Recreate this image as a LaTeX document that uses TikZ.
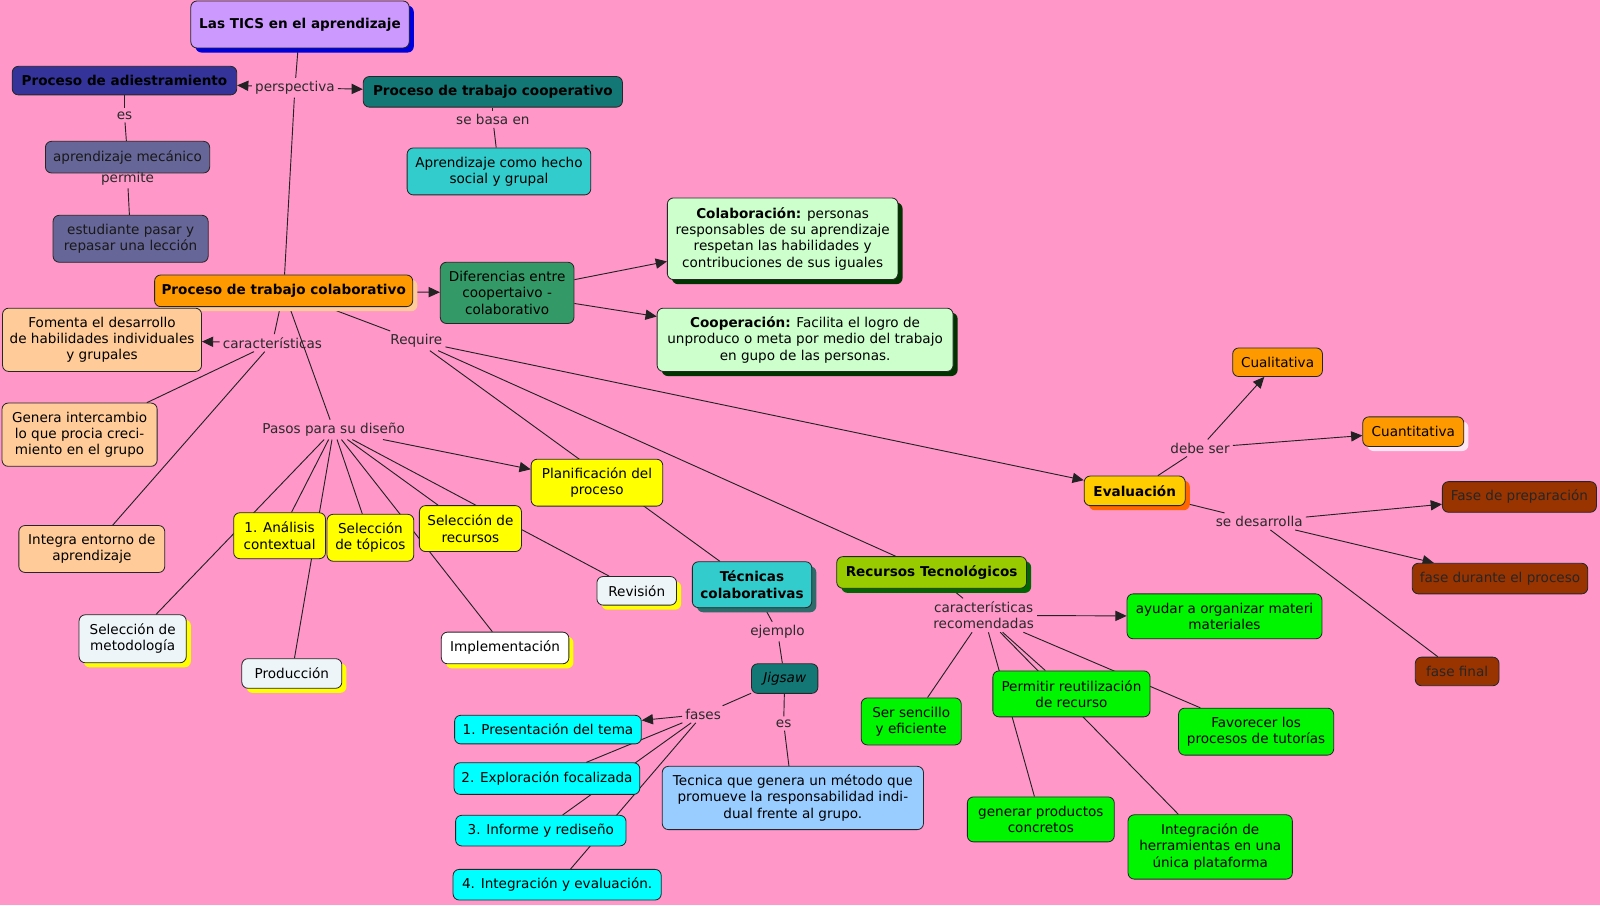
\documentclass[tikz,border=0pt]{standalone}
\usepackage{fontspec}
\setmainfont{DejaVu Sans}
\usetikzlibrary{arrows.meta,shadows}
\definecolor{bgpink}{HTML}{FF97C9}
\definecolor{cTics}{HTML}{CC99FF}
\definecolor{cTicsSh}{HTML}{0000DD}
\definecolor{cNavy}{HTML}{333399}
\definecolor{cTeal}{HTML}{127775}
\definecolor{cSlate}{HTML}{666699}
\definecolor{cTurq}{HTML}{33CCCC}
\definecolor{cOrange}{HTML}{FF9900}
\definecolor{cPeach}{HTML}{FFCC99}
\definecolor{cSea}{HTML}{339966}
\definecolor{cMint}{HTML}{CCFFCC}
\definecolor{cDkGreen}{HTML}{003300}
\definecolor{cYellow}{HTML}{FFFF00}
\definecolor{cPale}{HTML}{EEF5F8}
\definecolor{cTecSh}{HTML}{2F6B6B}
\definecolor{cCyan}{HTML}{00FFFF}
\definecolor{cSky}{HTML}{99CCFF}
\definecolor{cOlive}{HTML}{99CC00}
\definecolor{cOliveSh}{HTML}{006600}
\definecolor{cGreen}{HTML}{00F500}
\definecolor{cGold}{HTML}{FFCC00}
\definecolor{cGoldSh}{HTML}{FF6600}
\definecolor{cLightSh}{HTML}{FFE6F2}
\definecolor{cBrown}{HTML}{993300}
\definecolor{linec}{HTML}{222222}
\definecolor{lblc}{HTML}{2A2A2A}
\newcommand\fs{\fontsize{13.3}{16}\selectfont}
\pgfdeclarelayer{bglayer}
\pgfdeclarelayer{edgelayer}
\pgfsetlayers{bglayer,edgelayer,main}
\tikzset{
  cbox/.style={draw=black!85, line width=0.8pt, rounded corners=6pt, font=\fs, align=center, inner sep=1pt, text=black},
  bbox/.style={cbox, font=\fs\bfseries},
  sz/.style 2 args={minimum width=#1pt, minimum height=#2pt},
  sh/.style={general shadow={fill=#1, shadow xshift=4.5pt, shadow yshift=-4.5pt}},
  lab/.style={font=\fs, text=lblc, inner sep=3pt, align=center},
  ln/.style={draw=linec, line width=0.9pt},
  ar/.style={ln, -{Triangle[length=11pt,width=10pt]}},
}
\begin{document}
\begin{tikzpicture}[x=1pt,y=-1pt]
\begin{pgfonlayer}{bglayer}
\fill[bgpink] (0,0) rectangle (1568,887);
\end{pgfonlayer}
\useasboundingbox (0,0) rectangle (1568,887);

% concepts
\node[bbox, fill=cTics, sh=cTicsSh, sz={214}{46}] (tics) at (294,24) {Las TICS en el aprendizaje};
\node[bbox, fill=cNavy, sz={220}{28}] (adiest) at (122,79) {Proceso de adiestramiento};
\node[bbox, fill=cTeal, sz={254}{30}] (coop) at (483,90) {Proceso de trabajo cooperativo};
\node[cbox, fill=cSlate, text=black!90, sz={161}{31}] (mec) at (125,154) {aprendizaje mecánico};
\node[cbox, fill=cSlate, text=black!90, sz={152}{46}] (estud) at (128,234) {estudiante pasar y\\repasar una lección};
\node[cbox, fill=cTurq, sz={180}{46}] (social) at (489,168) {Aprendizaje como hecho\\social y grupal};
\node[bbox, fill=cOrange, sh=cPeach, sz={253}{31}] (colab) at (278,285) {Proceso de trabajo colaborativo};
\node[cbox, fill=cSea, sz={131}{60}] (dif) at (497,287) {Diferencias entre\\coopertaivo -\\colaborativo};
\node[cbox, fill=cMint, sh=cDkGreen, sz={226}{80}] (colabdef) at (767,234) {\textbf{Colaboración:} personas\\responsables de su aprendizaje\\respetan las habilidades y\\contribuciones de sus iguales};
\node[cbox, fill=cMint, sh=cDkGreen, sz={290}{62}] (coopdef) at (789,333) {\textbf{Cooperación:} Facilita el logro de\\unproduco o meta por medio del trabajo\\en gupo de las personas.};
\node[cbox, fill=cPeach, sz={195}{62}] (fomenta) at (100,333) {Fomenta el desarrollo\\de habilidades individuales\\y grupales};
\node[cbox, fill=cPeach, sz={152}{62}] (genera) at (78,426) {Genera intercambio\\lo que procia creci-\\miento en el grupo};
\node[cbox, fill=cPeach, sz={143}{46}] (integra) at (90,538) {Integra entorno de\\aprendizaje};
\node[cbox, fill=cYellow, sz={90}{45}] (analisis) at (274,525) {1. Análisis\\contextual};
\node[cbox, fill=cYellow, sz={85}{46}] (topicos) at (363,527) {Selección\\de tópicos};
\node[cbox, fill=cYellow, sz={100}{45}] (recursos) at (461,518) {Selección de\\recursos};
\node[cbox, fill=cYellow, sz={129}{46}] (planif) at (585,473) {Planificación del\\proceso};
\node[cbox, fill=cPale, sh=cYellow, sz={78}{28}] (revision) at (624,579) {Revisión};
\node[cbox, fill=white, sh=cYellow, sz={125}{31}] (implement) at (495,635) {Implementación};
\node[cbox, fill=cPale, sh=cYellow, sz={105}{47}] (metodo) at (130,626) {Selección de\\metodología};
\node[cbox, fill=cPale, sh=cYellow, sz={98}{29}] (produccion) at (286,660) {Producción};
\node[bbox, fill=cTurq, sh=cTecSh, sz={117}{45}] (tecnicas) at (737,573) {Técnicas\\colaborativas};
\node[cbox, fill=cTeal, sz={65}{29}, font=\fs\itshape] (jigsaw) at (769,665) {Jigsaw};
\node[cbox, fill=cCyan, sz={183}{28}] (pres) at (537,715) {1. Presentación del tema};
\node[cbox, fill=cCyan, sz={182}{31}] (explor) at (536,763) {2. Exploración focalizada};
\node[cbox, fill=cCyan, sz={167}{30}] (inf) at (530,814) {3. Informe y rediseño};
\node[cbox, fill=cCyan, sz={204}{30}] (integ) at (546,867) {4. Integración y evaluación.};
\node[cbox, fill=cSky, sz={256}{62}] (tecdef) at (777,782) {Tecnica que genera un método que\\promueve la responsabilidad indi-\\dual frente al grupo.};
\node[bbox, fill=cOlive, sh=cOliveSh, sz={186}{31}] (rectec) at (913,561) {Recursos Tecnológicos};
\node[cbox, fill=cGreen, sz={191}{44}] (ayudar) at (1200,604) {ayudar a organizar materi\\materiales};
\node[cbox, fill=cGreen, sz={98}{46}] (sencillo) at (893,707) {Ser sencillo\\y eficiente};
\node[cbox, fill=cGreen, sz={154}{45}] (reutil) at (1050,680) {Permitir reutilización\\de recurso};
\node[cbox, fill=cGreen, sz={152}{46}] (favor) at (1231,717) {Favorecer los\\procesos de tutorías};
\node[cbox, fill=cGreen, sz={144}{44}] (generar) at (1020,803) {generar productos\\concretos};
\node[cbox, fill=cGreen, sz={161}{63}] (integh) at (1186,830) {Integración de\\herramientas en una\\única plataforma};
\node[bbox, fill=cGold, sh=cGoldSh, sz={99}{29}] (eval) at (1112,481) {Evaluación};
\node[cbox, fill=cOrange, sz={88}{28}] (cuali) at (1252,355) {Cualitativa};
\node[cbox, fill=cOrange, sh=cLightSh, sz={99}{29}] (cuanti) at (1385,423) {Cuantitativa};
\node[cbox, fill=cBrown, text=black!85, sz={151}{30}] (prep) at (1489,487) {Fase de preparación};
\node[cbox, fill=cBrown, text=black!85, sz={172}{30}] (durante) at (1470,567) {fase durante el proceso};
\node[cbox, fill=cBrown, text=black!85, sz={82}{28}] (final) at (1428,658) {fase final};

% linking phrases
\node[lab] (persp) at (289,86) {perspectiva};
\node[lab] (es1) at (122,113) {es};
\node[lab] (permite) at (125,175) {permite};
\node[lab] (sebasa) at (483,117) {se basa en};
\node[lab] (caract) at (267,336) {características};
\node[lab] (require) at (408,334) {Require};
\node[lab] (pasos) at (327,421) {Pasos para su diseño};
\node[lab] (ejemplo) at (762,619) {ejemplo};
\node[lab] (fases) at (689,700) {fases};
\node[lab] (es2) at (768,709) {es};
\node[lab] (caract2) at (964,603) {características\\recomendadas};
\node[lab] (debeser) at (1176,439) {debe ser};
\node[lab] (sedes) at (1234,511) {se desarrolla};

\begin{pgfonlayer}{edgelayer}
\draw[ln] (tics) -- (persp);
\draw[ar] (persp) -- (adiest);
\draw[ar] (persp) -- (coop);
\draw[ln] (persp) -- (colab);
\draw[ln] (adiest) -- (es1);
\draw[ln] (es1) -- (mec);
\draw[ln] (mec) -- (permite);
\draw[ln] (permite) -- (estud);
\draw[ln] (coop) -- (sebasa);
\draw[ln] (sebasa) -- (social);
\draw[ar] (colab) -- (dif);
\draw[ar] (dif) -- (colabdef);
\draw[ar] (dif) -- (coopdef);
\draw[ln] (colab) -- (caract);
\draw[ar] (caract) -- (fomenta);
\draw[ln] (caract) -- (genera);
\draw[ln] (caract) -- (integra);
\draw[ln] (colab) -- (pasos);
\draw[ar] (pasos) -- (planif);
\foreach \t in {analisis,topicos,recursos,metodo,produccion,implement,revision}
  \draw[ln] (pasos) -- (\t);
\draw[ln] (colab) -- (require);
\draw[ln] (require) -- (tecnicas);
\draw[ln] (require) -- (rectec);
\draw[ar] (require) -- (eval);
\draw[ln] (tecnicas) -- (ejemplo);
\draw[ln] (ejemplo) -- (jigsaw);
\draw[ln] (jigsaw) -- (fases);
\draw[ar] (fases) -- (pres);
\foreach \t in {explor,inf,integ}
  \draw[ln] (fases) -- (\t);
\draw[ln] (jigsaw) -- (es2);
\draw[ln] (es2) -- (tecdef);
\draw[ln] (rectec) -- (caract2);
\draw[ar] (caract2) -- (ayudar);
\foreach \t in {sencillo,reutil,favor,generar,integh}
  \draw[ln] (caract2) -- (\t);
\draw[ln] (eval) -- (debeser);
\draw[ar] (debeser) -- (cuali);
\draw[ar] (debeser) -- (cuanti);
\draw[ln] (eval) -- (sedes);
\draw[ar] (sedes) -- (prep);
\draw[ar] (sedes) -- (durante);
\draw[ln] (sedes) -- (final);
\end{pgfonlayer}
\end{tikzpicture}
\end{document}
